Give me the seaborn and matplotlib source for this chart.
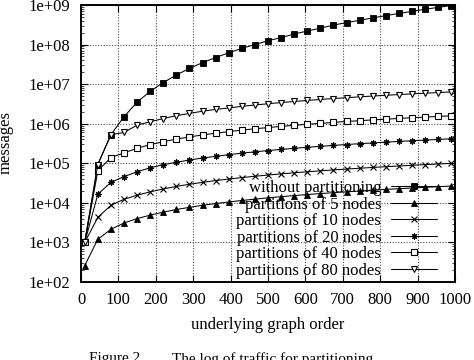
import matplotlib
matplotlib.use("Agg")
import matplotlib.pyplot as plt
import seaborn as sns
import pandas as pd
from matplotlib.ticker import FixedLocator, FixedFormatter, LogLocator, NullFormatter

# ---- data ----
order = [10, 45, 80, 115, 150, 185, 220, 255, 290, 325, 360, 395, 430, 465, 500,
         535, 570, 605, 640, 675, 710, 745, 780, 815, 850, 885, 920, 955, 990]

without_partitioning = [1.0e3, 9.3e4, 5.3e5, 1.5e6, 3.5e6, 6.6e6, 1.1e7, 1.7e7, 2.5e7,
                        3.5e7, 4.7e7, 6.2e7, 8.0e7, 1.0e8, 1.25e8, 1.5e8, 1.85e8, 2.2e8,
                        2.6e8, 3.1e8, 3.6e8, 4.1e8, 4.7e8, 5.4e8, 6.1e8, 6.9e8, 7.8e8,
                        8.7e8, 9.7e8]
part_5 = [260, 1200, 2150, 3100, 4000, 4900, 5800, 6800, 7700, 8700, 9600, 10500, 11500,
          12400, 13400, 14300, 15300, 16200, 17200, 18100, 19000, 20000, 20900, 21900,
          22800, 23700, 24700, 25600, 26600]
part_10 = [1000, 4300, 8700, 12300, 15600, 19000, 22500, 26000, 29500, 33000, 36500,
           40000, 43500, 47000, 50500, 54000, 57500, 61000, 64500, 68000, 71500, 75000,
           78500, 82000, 85500, 89000, 92500, 96000, 99500]
part_20 = [1000, 16500, 33000, 46000, 61000, 77000, 92000, 106000, 121000, 136000,
           150000, 165000, 180000, 195000, 210000, 224000, 239000, 254000, 268000,
           283000, 298000, 313000, 327000, 342000, 357000, 371000, 386000, 401000, 416000]
part_40 = [1000, 64000, 140000, 183000, 240000, 295000, 352000, 408000, 465000, 520000,
           576000, 632000, 688000, 744000, 800000, 856000, 912000, 968000, 1.02e6,
           1.08e6, 1.14e6, 1.19e6, 1.25e6, 1.30e6, 1.36e6, 1.42e6, 1.47e6, 1.53e6, 1.58e6]
part_80 = [1000, 93000, 530000, 600000, 920000, 1.12e6, 1.35e6, 1.60e6, 1.82e6, 2.07e6,
           2.30e6, 2.50e6, 2.75e6, 2.97e6, 3.20e6, 3.42e6, 3.65e6, 3.87e6, 4.10e6,
           4.33e6, 4.55e6, 4.78e6, 5.00e6, 5.23e6, 5.45e6, 5.68e6, 5.90e6, 6.12e6, 6.35e6]

series_labels = ["without partitioning", "partitions of 5 nodes", "partitions of 10 nodes",
                 "partitions of 20 nodes", "partitions of 40 nodes", "partitions of 80 nodes"]
series_values = [without_partitioning, part_5, part_10, part_20, part_40, part_80]

xtick_values = [0, 100, 200, 300, 400, 500, 600, 700, 800, 900, 1000]
ytick_values = [1e2, 1e3, 1e4, 1e5, 1e6, 1e7, 1e8, 1e9]
ytick_labels = ["1e+02", "1e+03", "1e+04", "1e+05", "1e+06", "1e+07", "1e+08", "1e+09"]

x_label = "underlying graph order"
y_label = "messages"
caption_a = "Figure 2."
caption_b = "The log of traffic for partitioning"

# ---- styles ----
styles = [
    dict(marker="s", markersize=4.5, markerfacecolor="black", markeredgecolor="black",
         markeredgewidth=0.6),
    dict(marker="^", markersize=4.2, markerfacecolor="black", markeredgecolor="black",
         markeredgewidth=0.6),
    dict(marker="x", markersize=4.2, markeredgecolor="black", markeredgewidth=0.8),
    dict(marker=(8, 2, 0), markersize=4.6, markeredgecolor="black", markeredgewidth=0.8),
    dict(marker="s", markersize=4.0, markerfacecolor="white", markeredgecolor="black",
         markeredgewidth=0.8),
    dict(marker="v", markersize=4.4, markerfacecolor="white", markeredgecolor="black",
         markeredgewidth=0.8),
]

sns.set_theme(style="white")
plt.rcParams["font.family"] = ["Liberation Serif", "DejaVu Serif"]

fig = plt.figure(figsize=(4.74, 3.6), dpi=100)
fig.patch.set_facecolor("white")
ax = fig.add_axes([81 / 474, 1 - 282 / 360, 374 / 474, 277 / 360])
ax.set_facecolor("white")

for lab, vals, st in zip(series_labels, series_values, styles):
    df = pd.DataFrame({"order": order, "messages": vals})
    sns.lineplot(data=df, x="order", y="messages", ax=ax, color="black",
                 linewidth=0.75, label=lab, **st)

ax.set_yscale("log")
ax.set_xlim(0, 1000)
ax.set_ylim(1e2, 1e9)

ax.xaxis.set_major_locator(FixedLocator(xtick_values))
ax.xaxis.set_major_formatter(FixedFormatter([str(v) for v in xtick_values]))
ax.yaxis.set_major_locator(FixedLocator(ytick_values))
ax.yaxis.set_major_formatter(FixedFormatter(ytick_labels))
ax.yaxis.set_minor_locator(LogLocator(base=10, subs=[2, 3, 4, 5, 6, 7, 8, 9], numticks=20))
ax.yaxis.set_minor_formatter(NullFormatter())

ax.tick_params(axis="both", which="major", direction="in", length=5, width=0.8,
               colors="black", labelsize=12, top=True, right=True,
               bottom=True, left=True)
ax.tick_params(axis="y", which="minor", direction="in", length=2.5, width=0.6,
               left=True, right=True)
ax.tick_params(axis="x", which="major", pad=7)
ax.tick_params(axis="y", which="major", pad=8)

ax.grid(True, which="major", color="0.3", linestyle=(0, (1, 1.5)), linewidth=0.8)
ax.set_axisbelow(True)

for sp in ax.spines.values():
    sp.set_color("black")
    sp.set_linewidth(1.4)

ax.set_xlabel(x_label, fontsize=12, labelpad=7, color="black")
ax.set_ylabel("")
fig.text(6 / 474, 1 - 143 / 360, y_label, rotation=90, ha="center", va="center",
         fontsize=12, color="black")

handles, labels = ax.get_legend_handles_labels()
leg = ax.legend(handles, labels, loc="lower right", bbox_to_anchor=(0.952, 0.012),
                frameon=False, markerfirst=False, fontsize=12, handlelength=2.75,
                handletextpad=0.6, labelspacing=0.03, borderpad=0, borderaxespad=0)
for t in leg.get_texts():
    t.set_color("black")

fig.text(89 / 474, 1 - 352 / 360, caption_a, ha="left", va="top", fontsize=11, color="black")
fig.text(172 / 474, 1 - 352 / 360, caption_b, ha="left", va="top", fontsize=11, color="black")

fig.savefig("out.png", dpi=100)
